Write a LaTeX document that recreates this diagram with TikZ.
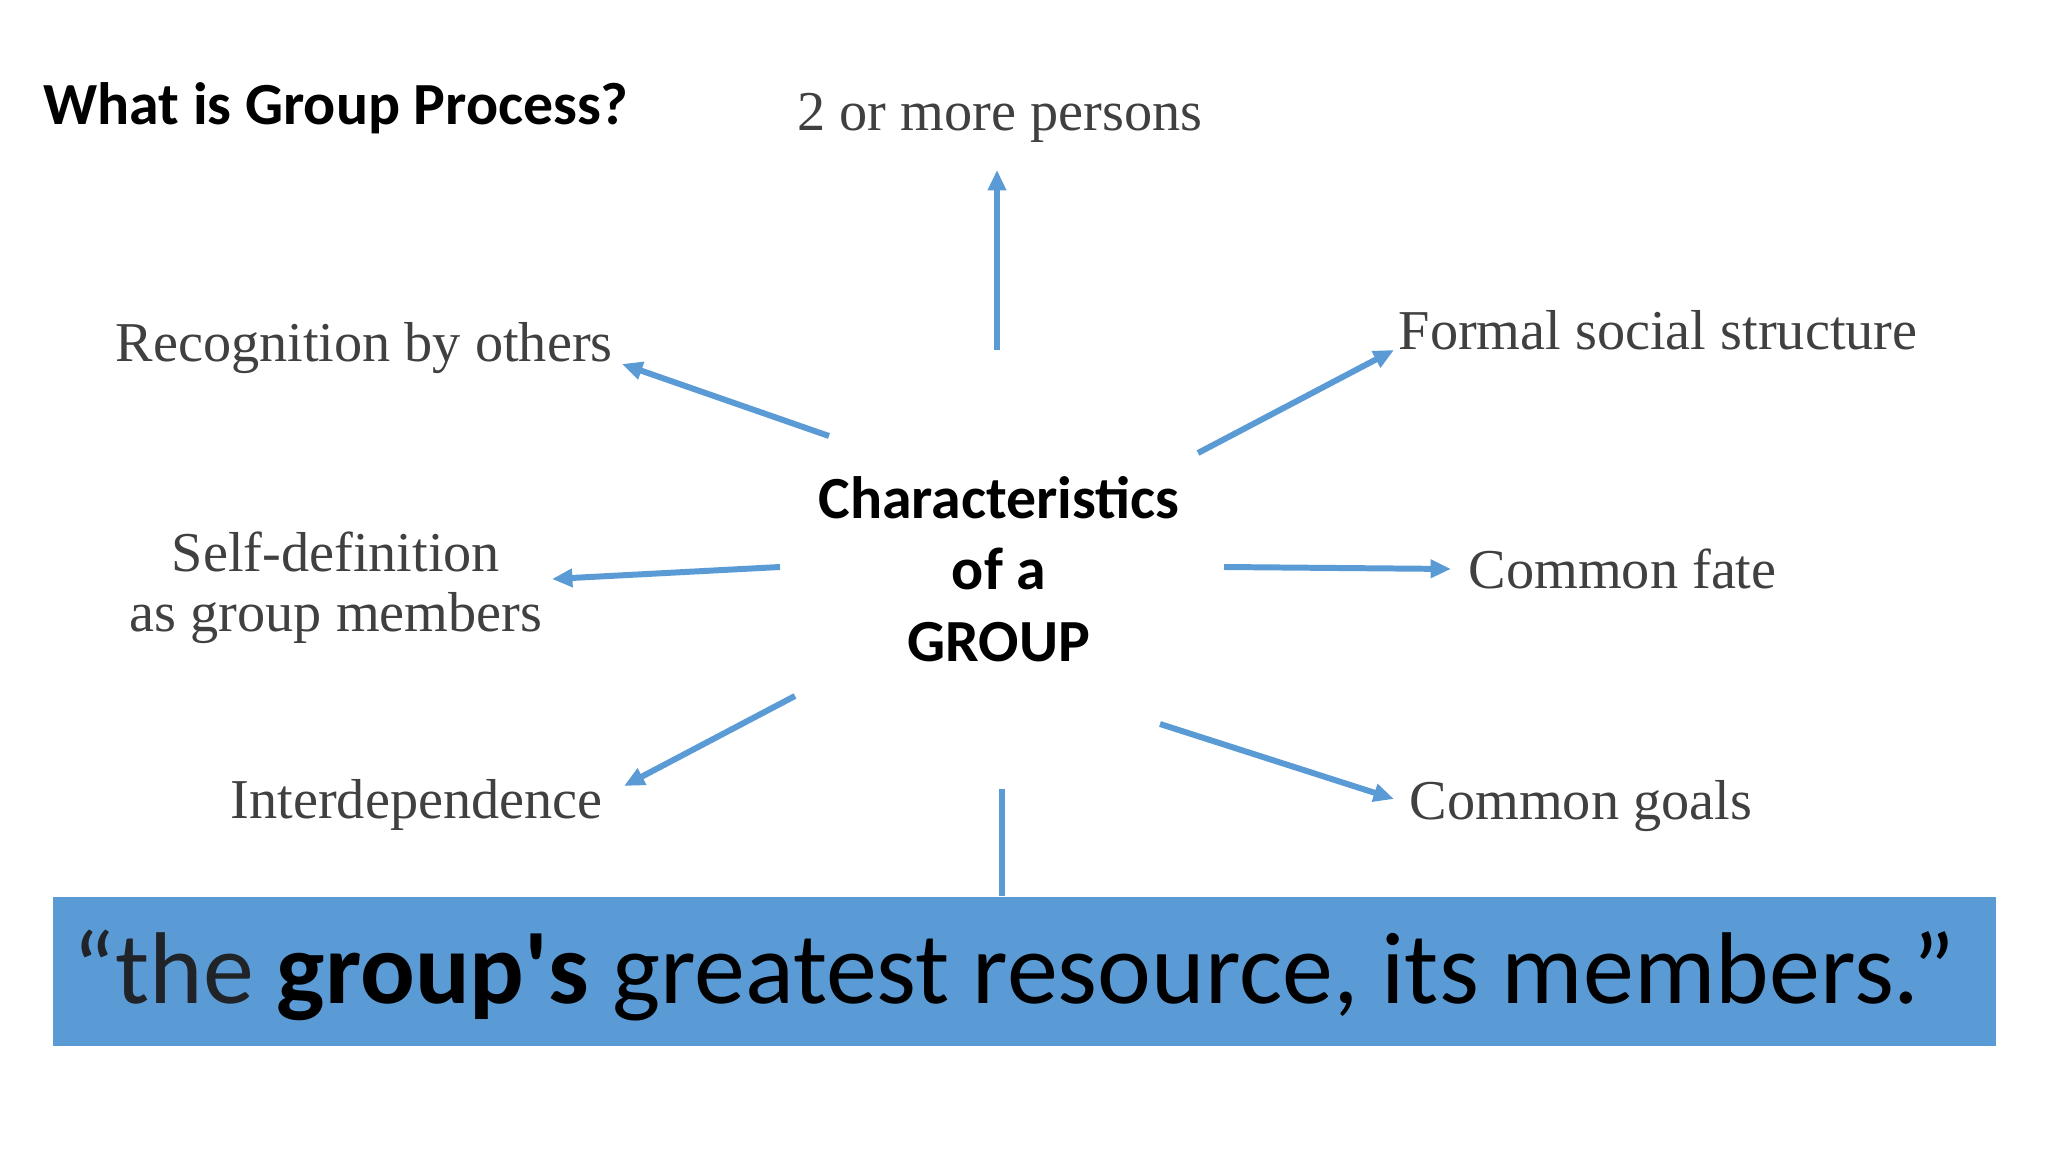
\documentclass[tikz,border=0pt]{standalone}
\usepackage{fontspec}
\setmainfont{Liberation Serif}
\newfontfamily\calibri{Carlito}
\usetikzlibrary{arrows.meta}

\definecolor{spokeblue}{HTML}{5B9BD5}
\definecolor{labelgrey}{HTML}{404040}
\definecolor{quoteink}{HTML}{202428}

\tikzset{
  label/.style={inner sep=0pt, text=labelgrey, font=\fontsize{16}{17.1}\selectfont},
  heading/.style={inner sep=0pt, font=\calibri\bfseries\fontsize{17}{20.3}\selectfont},
  spoke/.style={draw=spokeblue, line width=1.7pt, -{Triangle[length=5.8pt,width=5pt]}}
}

\begin{document}
\begin{tikzpicture}[x=0.01cm,y=-0.01cm]
  \useasboundingbox[fill=white] (0,0) rectangle (2048,1152);

  \node[heading, anchor=base west] (title) at (43,125) {What is Group Process?};

  % hub (base = last line)
  \node[heading, align=center, anchor=base] (hub) at (999,661)
      {Characteristics\\of a\\GROUP};

  % the seven characteristics
  \node[label, anchor=base] (persons) at (1000,131) {2 or more persons};
  \node[label, anchor=base west] (recog) at (115,362) {Recognition by others};
  \node[label, anchor=base west] (formal) at (1398,350) {Formal social structure};
  \node[label, anchor=base, align=center] (selfdef) at (336,632)
      {Self-definition\\as group members};
  \node[label, anchor=base west] (fate) at (1468,588) {Common fate};
  \node[label, anchor=base west] (interdep) at (230,818) {Interdependence};
  \node[label, anchor=base west] (goals) at (1409,819) {Common goals};

  \coordinate (hubN) at (997,350);   \coordinate (tipN) at (997,170);
  \coordinate (hubNW) at (829,436);  \coordinate (tipNW) at (622,364);
  \coordinate (hubNE) at (1198,453); \coordinate (tipNE) at (1394,350);
  \coordinate (hubW) at (780,567);   \coordinate (tipW) at (552,579);
  \coordinate (hubE) at (1224,567);  \coordinate (tipE) at (1451,569);
  \coordinate (hubSW) at (795,696);  \coordinate (tipSW) at (624,786);
  \coordinate (hubSE) at (1160,724); \coordinate (tipSE) at (1394,799);
  \coordinate (hubS) at (1002,789);

  \foreach \a/\b in {hubN/tipN, hubNW/tipNW, hubNE/tipNE, hubW/tipW,
                     hubE/tipE, hubSW/tipSW, hubSE/tipSE}
    \draw[spoke] (\a) -- (\b);

  % quote bar
  \node[fill=spokeblue, inner sep=0pt, minimum width=19.42cm, minimum height=1.49cm,
        anchor=north west] (bar) at (52,896) {};
  \node[anchor=base west, inner sep=0pt, font=\calibri\fontsize{29}{34}\selectfont]
      (quote) at (72,1003)
      {\textcolor{quoteink}{“the} \textbf{group's} greatest resource, its members.”};
  \draw[spokeblue, line width=1.7pt] (hubS) -- (bar.north -| hubS);
\end{tikzpicture}
\end{document}
